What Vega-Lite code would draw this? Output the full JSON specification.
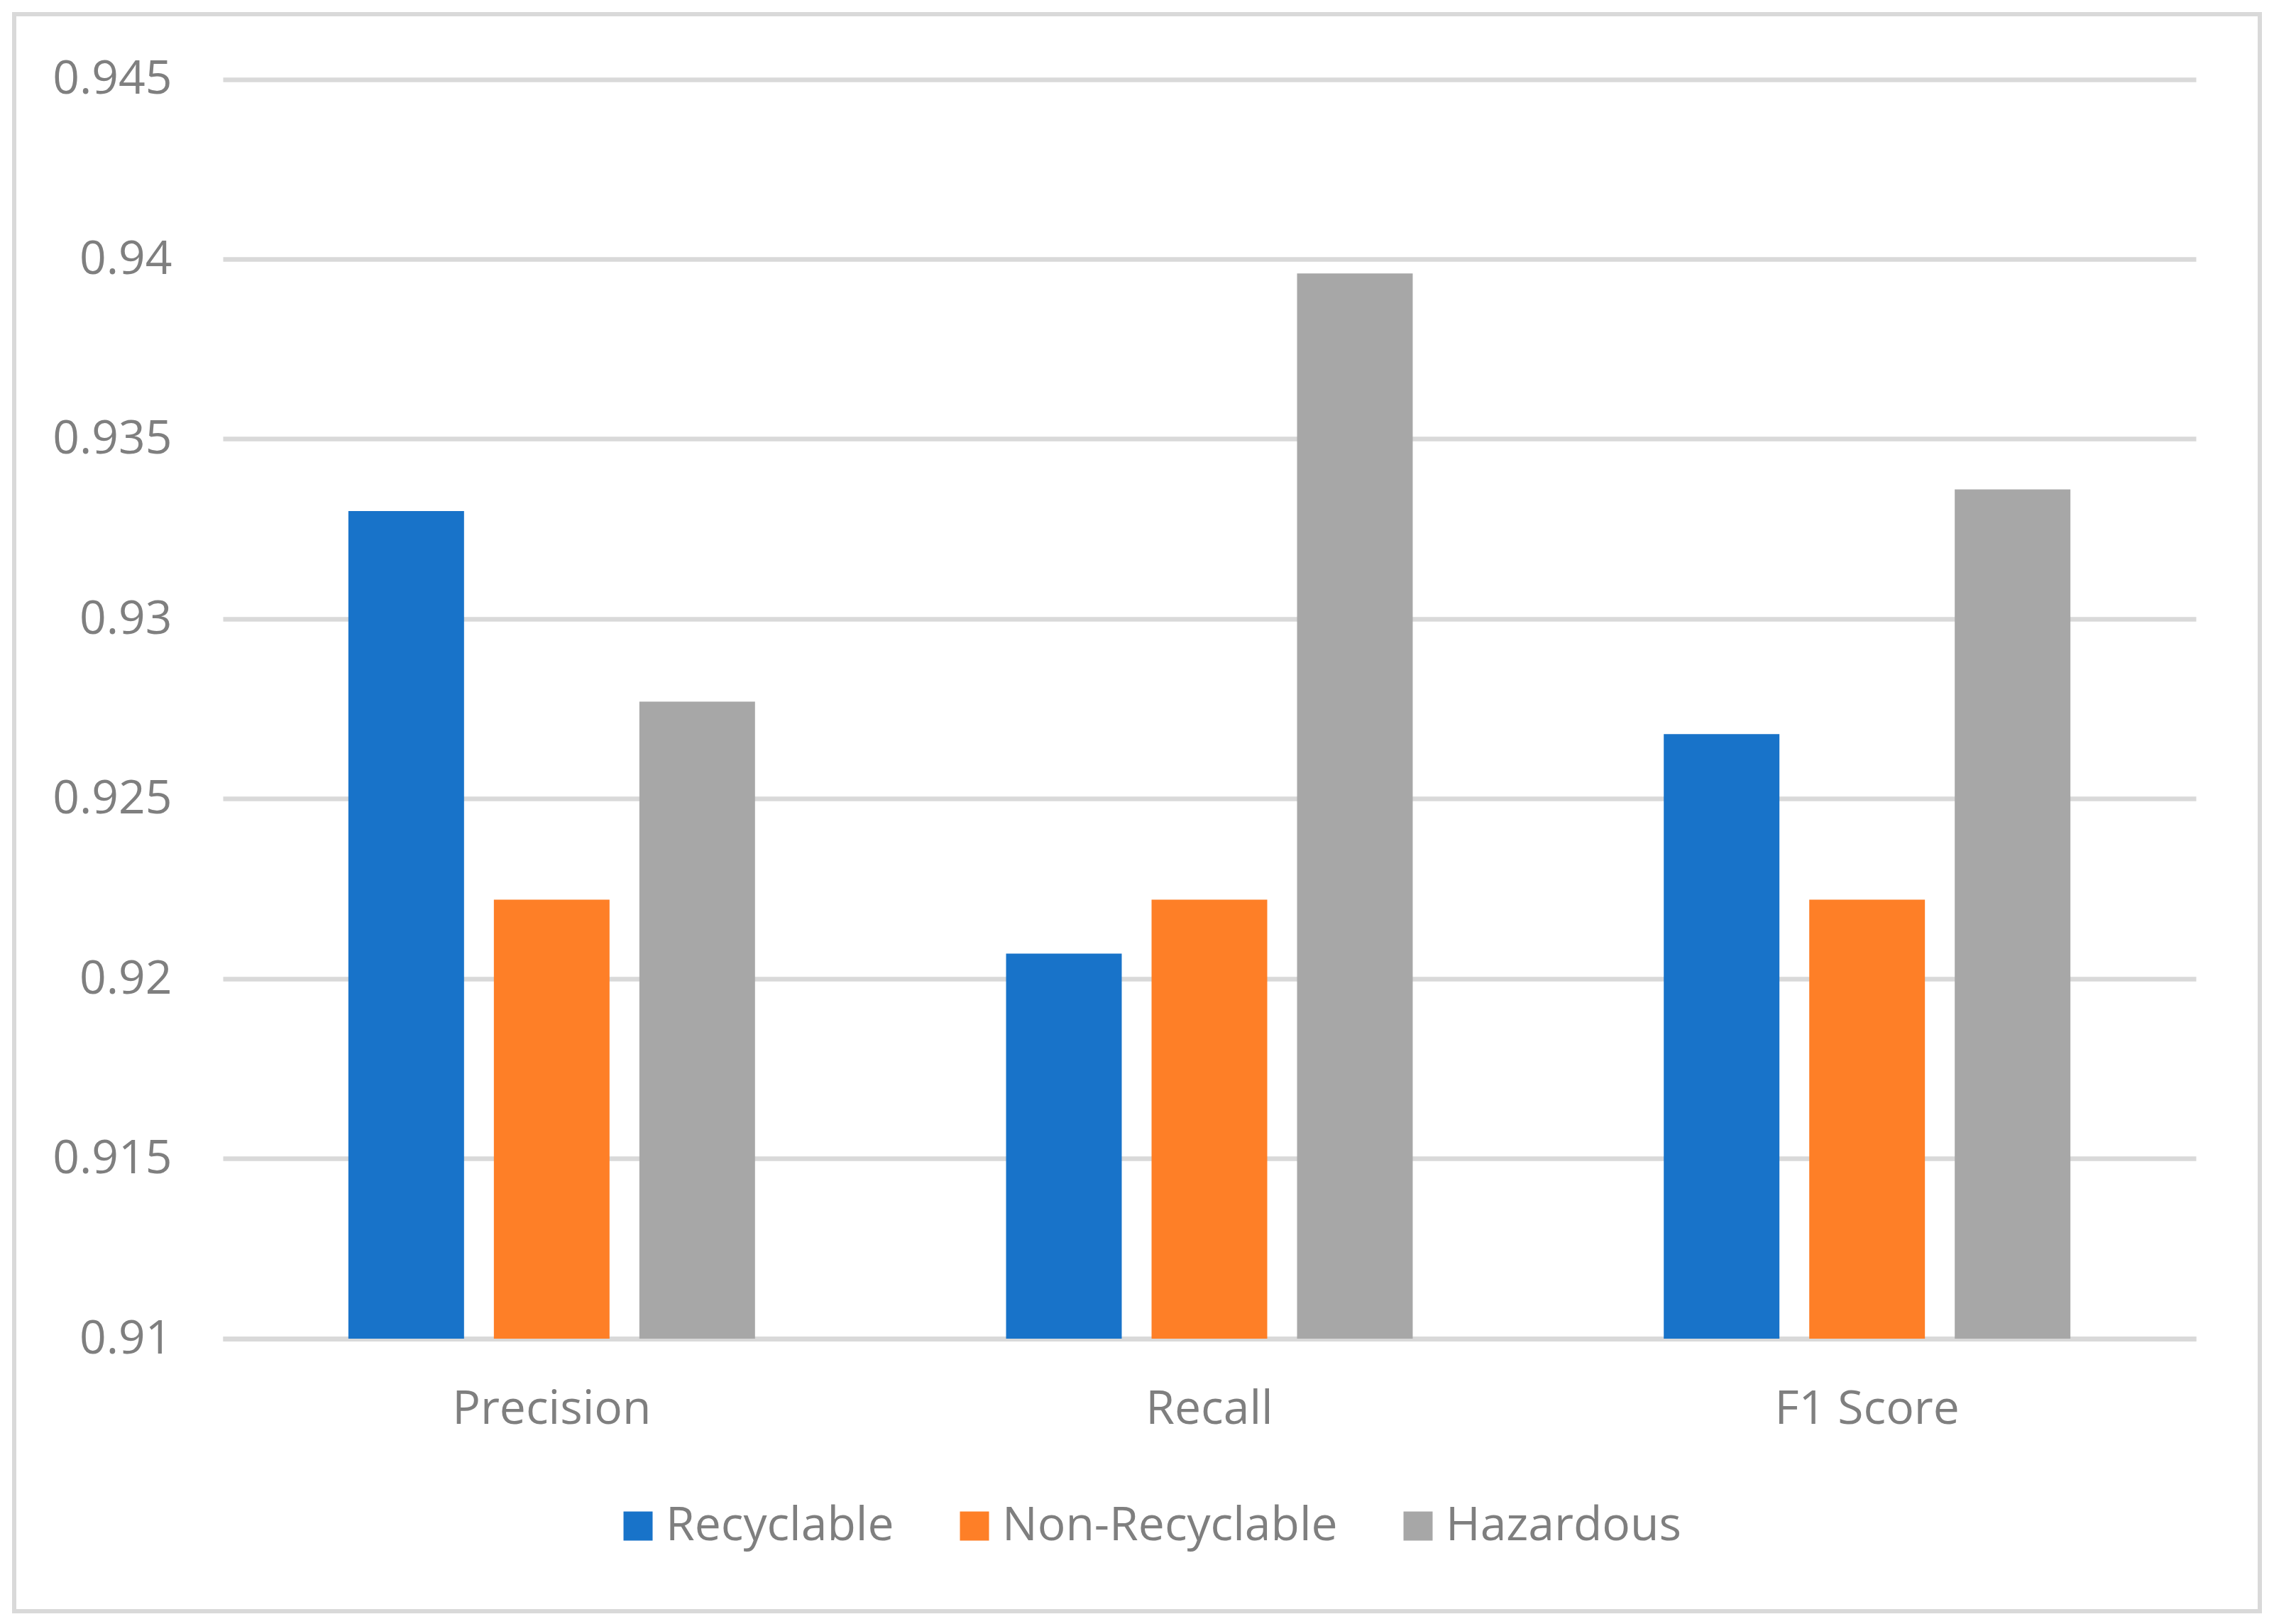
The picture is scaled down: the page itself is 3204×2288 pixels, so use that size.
{
  "$schema": "https://vega.github.io/schema/vega-lite/v6.json",
  "autosize": {"type": "none"},
  "padding": {"left": 20, "top": 20, "right": 20, "bottom": 18},
  "width": 3164,
  "height": 2250,
  "background": "white",
  "config": {
    "font": "Open Sans",
    "view": {"stroke": "#d9d9d9", "strokeWidth": 6},
    "axis": {
      "labelFont": "Open Sans",
      "labelFontSize": 66,
      "labelColor": "#7f7f7f",
      "labelLimit": 1000,
      "ticks": false,
      "title": null
    },
    "legend": {
      "labelFont": "Open Sans",
      "labelFontSize": 66,
      "labelColor": "#7f7f7f",
      "labelLimit": 1000
    }
  },
  "data": {
    "values": [
      {"metric": "Precision", "cls": "Recyclable", "score": 0.9330},
      {"metric": "Precision", "cls": "Non-Recyclable", "score": 0.9222},
      {"metric": "Precision", "cls": "Hazardous", "score": 0.9277},
      {"metric": "Recall", "cls": "Recyclable", "score": 0.9207},
      {"metric": "Recall", "cls": "Non-Recyclable", "score": 0.9222},
      {"metric": "Recall", "cls": "Hazardous", "score": 0.9396},
      {"metric": "F1 Score", "cls": "Recyclable", "score": 0.9268},
      {"metric": "F1 Score", "cls": "Non-Recyclable", "score": 0.9222},
      {"metric": "F1 Score", "cls": "Hazardous", "score": 0.9336}
    ]
  },
  "mark": {"type": "bar"},
  "encoding": {
    "x": {
      "field": "metric",
      "type": "nominal",
      "sort": ["Precision", "Recall", "F1 Score"],
      "scale": {"range": [294, 3074], "paddingInner": 0.3817, "paddingOuter": 0.19085},
      "axis": {
        "labelAngle": 0,
        "offset": -384,
        "domainColor": "#d9d9d9",
        "domainWidth": 7,
        "labelPadding": 67
      }
    },
    "xOffset": {
      "field": "cls",
      "type": "nominal",
      "sort": ["Recyclable", "Non-Recyclable", "Hazardous"],
      "scale": {"paddingInner": 0.205, "paddingOuter": 0}
    },
    "y": {
      "field": "score",
      "type": "quantitative",
      "scale": {"domain": [0.91, 0.945], "range": [1866, 91.5], "zero": false, "nice": false},
      "axis": {
        "values": [0.91, 0.915, 0.92, 0.925, 0.93, 0.935, 0.94, 0.945],
        "format": "~g",
        "offset": -294,
        "domain": false,
        "labelPadding": 72,
        "gridColor": "#d9d9d9",
        "gridWidth": 6.5
      }
    },
    "y2": {"datum": 0.91},
    "color": {
      "field": "cls",
      "type": "nominal",
      "sort": ["Recyclable", "Non-Recyclable", "Hazardous"],
      "scale": {"range": ["#1873c9", "#fe7f27", "#a7a7a7"]},
      "legend": {
        "title": null,
        "orient": "none",
        "direction": "horizontal",
        "legendX": 846,
        "legendY": 2097,
        "symbolType": "square",
        "symbolSize": 1681,
        "symbolStrokeWidth": 0,
        "labelOffset": 6,
        "columnPadding": 80,
        "padding": 0
      }
    }
  }
}
